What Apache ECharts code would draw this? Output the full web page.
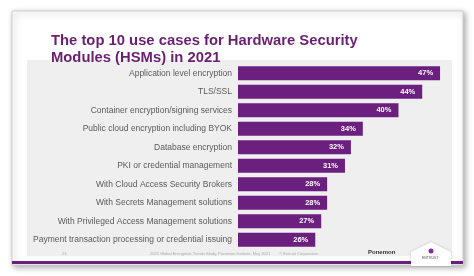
<!DOCTYPE html>
<html>
<head>
<meta charset="utf-8">
<script src="https://cdn.jsdelivr.net/npm/echarts@6/dist/echarts.min.js"></script>
<style>
  html, body { margin: 0; padding: 0; background: #fff; }
  #main { width: 474px; height: 276px; }
</style>
</head>
<body>
<div id="main"></div>
<script>
var categories = [
    'Application level encryption',
    'TLS/SSL',
    'Container encryption/signing services',
    'Public cloud encryption including BYOK',
    'Database encryption',
    'PKI or credential management',
    'With Cloud Access Security Brokers',
    'With Secrets Management solutions',
    'With Privileged Access Management solutions',
    'Payment transaction processing or credential issuing'
];
var shares = [47, 44, 40, 34, 32, 31, 28, 28, 27, 26];

var purple = '#6b1f7e';
var chart = echarts.init(document.getElementById('main'));

var option = {
    animation: false,
    title: {
        text: 'The top 10 use cases for Hardware Security\nModules (HSMs) in 2021',
        left: 46,
        top: 27,
        textStyle: {
            color: '#6a1f70',
            fontFamily: 'Liberation Sans',
            fontWeight: 'bold',
            fontSize: 14.8,
            lineHeight: 17
        }
    },
    graphic: [
        // slide with shadow
        { type: 'rect', z: -10, shape: { x: 12, y: 11, width: 451, height: 254 },
          style: { fill: '#fff', stroke: '#cfcfcf', lineWidth: 1, shadowBlur: 6, shadowColor: 'rgba(0,0,0,0.35)', shadowOffsetX: 2, shadowOffsetY: 2 } },
        // gray panel
        { type: 'rect', z: -9, shape: { x: 27, y: 60, width: 425, height: 196 },
          style: { fill: '#efefef' } },
        // bottom purple line
        { type: 'rect', z: -8, shape: { x: 12, y: 261, width: 451, height: 3 },
          style: { fill: purple } },
        // logo box (house shape)
        { type: 'polygon', z: -7, shape: { points: [[411, 252], [431, 242], [451, 252], [451, 266], [411, 266]] },
          style: { fill: '#fff', shadowBlur: 3, shadowColor: 'rgba(0,0,0,0.2)' } },
        { type: 'circle', z: -6, shape: { cx: 431, cy: 251, r: 2.5 }, style: { fill: '#8a2aa0' } },
        { type: 'text', z: -6, left: 422, top: 256, style: { text: 'ENTRUST', fill: '#555', fontSize: 3.5, fontFamily: 'Liberation Sans' } },
        { type: 'text', z: -6, left: 368, top: 249, style: { text: 'Ponemon', fill: '#333', fontSize: 6, fontWeight: 'bold', fontFamily: 'Liberation Sans' } },
        { type: 'text', z: -6, left: 62, top: 252, style: { text: '23', fill: '#aaa', fontSize: 4, fontFamily: 'Liberation Sans' } },
        { type: 'text', z: -6, left: 150, top: 252, style: { text: '2021 Global Encryption Trends Study, Ponemon Institute, May 2021        \u00a9 Entrust Corporation', fill: '#aaa', fontSize: 4, fontFamily: 'Liberation Sans' } }
    ],
    grid: {
        left: 238,
        right: 28,
        top: 64,
        height: 185
    },
    xAxis: {
        type: 'value',
        min: 13,
        max: 48,
        show: false
    },
    yAxis: {
        type: 'category',
        data: categories,
        inverse: true,
        axisLine: { show: false },
        axisTick: { show: false },
        axisLabel: {
            color: '#5a5a5a',
            fontSize: 8.5,
            fontFamily: 'Liberation Sans',
            margin: 6
        }
    },
    series: [{
        type: 'bar',
        data: shares,
        barWidth: 14,
        itemStyle: { color: purple },
        label: {
            show: true,
            position: 'insideRight',
            distance: 7,
            formatter: '{c}%',
            color: '#fff',
            fontSize: 7.5,
            fontWeight: 'bold',
            fontFamily: 'Liberation Sans'
        }
    }]
};
chart.setOption(option);
window.addEventListener('resize', function () {
    chart.resize();
});
</script>
</body>
</html>
